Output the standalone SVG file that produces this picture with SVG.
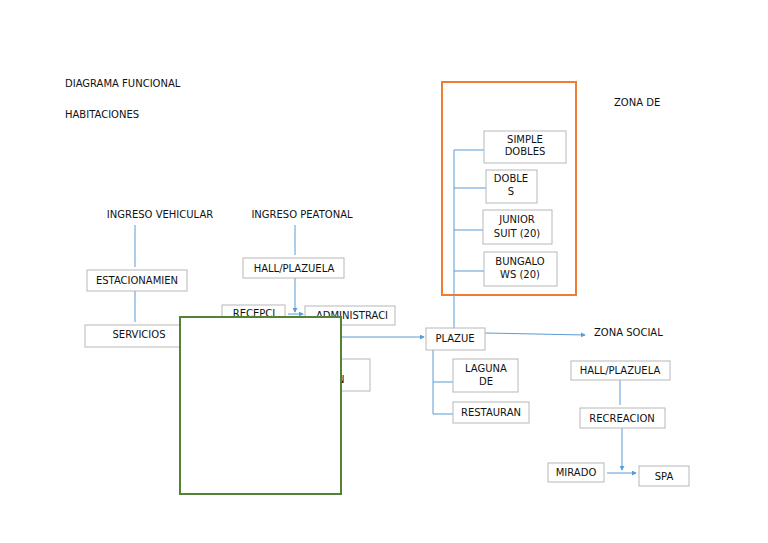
<svg xmlns="http://www.w3.org/2000/svg" width="768" height="543" viewBox="0 0 768 543">
<style>
text{font-family:"DejaVu Sans","Liberation Sans",sans-serif;font-size:10px;fill:#111}
.b{fill:#fff;stroke:#b8b8b8;stroke-width:1}
.c{text-anchor:middle}
.l{stroke:#5b9bd5;stroke-width:1;fill:none}
</style>
<defs><marker id="a" viewBox="0 0 6 6" refX="5" refY="3" markerWidth="5" markerHeight="5" orient="auto-start-reverse"><path d="M0,0L6,3L0,6z" fill="#5b9bd5"/></marker></defs>
<rect width="768" height="543" fill="#fff"/>
<g id="titles">
<text x="65" y="87">DIAGRAMA FUNCIONAL</text>
<text x="65" y="118">HABITACIONES</text>
<text x="614" y="106">ZONA DE</text>
<text x="160" y="218" class="c">INGRESO VEHICULAR</text>
<text x="302" y="218" class="c">INGRESO PEATONAL</text>
<text x="594" y="336">ZONA SOCIAL</text>
</g>
<g id="connectors">
<path class="l" d="M135,225V267M135,291V322M295,225V255M295,278V312" marker-end="url(#a)"/>
<path class="l" d="M295,314H288M295,314H303" marker-end="url(#a)"/>
<path class="l" d="M454,150V328M454,150H484M454,188H486M454,230H483M454,271H484"/>
<path class="l" d="M485,333L585,335" marker-end="url(#a)"/>
<path class="l" d="M340,337H424" marker-end="url(#a)"/>
<path class="l" d="M433,350V414H453M433,382H453"/>
<path class="l" d="M620,380V405M622,428V470" marker-end="url(#a)"/>
<path class="l" d="M622,473H607M622,473H636" marker-end="url(#a)"/>
</g>
<rect x="442" y="82" width="134" height="213" fill="none" stroke="#ed7d31" stroke-width="2"/>
<g id="simple"><rect class="b" x="484" y="131" width="82" height="32"/><text class="c" x="525" y="143">SIMPLE</text><text class="c" x="525" y="155">DOBLES</text></g>
<g id="dobles"><rect class="b" x="486" y="170" width="51" height="33"/><text class="c" x="511" y="182">DOBLE</text><text class="c" x="511" y="195">S</text></g>
<g id="junior"><rect class="b" x="483" y="210" width="69" height="34"/><text class="c" x="517" y="223">JUNIOR</text><text class="c" x="517" y="237">SUIT (20)</text></g>
<g id="bungalows"><rect class="b" x="484" y="252" width="73" height="34"/><text class="c" x="520" y="265">BUNGALO</text><text class="c" x="520" y="278">WS (20)</text></g>
<g id="plazue"><rect class="b" x="426" y="328" width="59" height="22"/><text class="c" x="455" y="342">PLAZUE</text></g>
<g id="laguna"><rect class="b" x="453" y="359" width="65" height="33"/><text class="c" x="486" y="372">LAGUNA</text><text class="c" x="486" y="385">DE</text></g>
<g id="restauran"><rect class="b" x="453" y="402" width="76" height="21"/><text class="c" x="491" y="416">RESTAURAN</text></g>
<g id="hall2"><rect class="b" x="571" y="361" width="99" height="19"/><text class="c" x="620" y="374">HALL/PLAZUELA</text></g>
<g id="recreacion"><rect class="b" x="580" y="408" width="85" height="20"/><text class="c" x="622" y="422">RECREACION</text></g>
<g id="mirado"><rect class="b" x="548" y="463" width="56" height="19"/><text class="c" x="576" y="476">MIRADO</text></g>
<g id="spa"><rect class="b" x="639" y="466" width="50" height="20"/><text class="c" x="664" y="480">SPA</text></g>
<g id="estac"><rect class="b" x="87" y="270" width="100" height="21"/><text class="c" x="137" y="284">ESTACIONAMIEN</text></g>
<g id="servicios"><rect class="b" x="85" y="325" width="100" height="22"/><text class="c" x="139" y="338">SERVICIOS</text></g>
<g id="hall1"><rect class="b" x="243" y="258" width="101" height="20"/><text class="c" x="294" y="272">HALL/PLAZUELA</text></g>
<g id="recepci"><rect class="b" x="222" y="305" width="63" height="22"/><text class="c" x="254" y="317">RECEPCI</text></g>
<g id="admin"><rect class="b" x="305" y="306" width="90" height="19"/><text class="c" x="352" y="319">ADMINISTRACI</text></g>
<g id="hidden"><rect class="b" x="330" y="359" width="40" height="32"/><text x="337" y="383">N</text></g>
<rect x="180" y="317" width="161" height="177" fill="#fff" stroke="#548235" stroke-width="2"/>
</svg>
